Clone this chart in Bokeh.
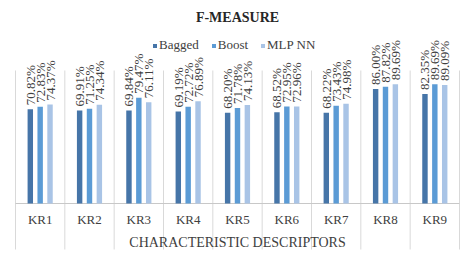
import math
from bokeh.plotting import figure
from bokeh.models import ColumnDataSource, Range1d, Legend, LegendItem, Label
from bokeh.core.properties import value
from bokeh.embed import file_html
from bokeh.resources import INLINE

categories = ["KR1", "KR2", "KR3", "KR4", "KR5", "KR6", "KR7", "KR8", "KR9"]
series_names = ["Bagged", "Boost", "MLP NN"]
bagged = [70.82, 69.91, 69.84, 69.19, 68.20, 68.52, 68.22, 86.00, 82.35]
boost = [72.83, 71.25, 79.47, 72.72, 71.78, 72.95, 73.43, 87.82, 89.69]
mlp_nn = [74.37, 74.34, 76.11, 76.89, 74.13, 72.96, 74.98, 89.69, 89.09]
colors = ["#4675A8", "#5B9BD5", "#A9C4E6"]

W, H = 474, 257
SERIF = "Liberation Serif"

# pixel mapping for the full-canvas frame
left_px, right_px = 15.0, 459.0
base_px, top_px = 203.0, 70.0
n = len(categories)
xs_per = (right_px - left_px) / n
ys_per = (base_px - top_px) / 100.0

p = figure(width=W, height=H, output_backend="svg", toolbar_location=None,
           x_axis_type=None, y_axis_type=None, min_border=0,
           x_range=Range1d(-left_px / xs_per, n + (W - right_px) / xs_per),
           y_range=Range1d(-(H - base_px) / ys_per, base_px / ys_per))
p.outline_line_color = None
p.grid.visible = False
p.background_fill_color = "white"
p.border_fill_color = "white"

# separators
bounds = list(range(n + 1))
p.segment(x0=bounds, x1=bounds, y0=[-(249 - base_px) / ys_per] * len(bounds),
          y1=[100] * len(bounds), line_color="#D9D9D9", line_width=1)
# baseline
p.segment(x0=[0], x1=[n], y0=[0], y1=[0], line_color="#C8C8C8", line_width=1)

centers = [i + 0.5 for i in range(n)]
offsets = [-0.2, 0.0, 0.2]
renderers = []
for vals, off, col in zip([bagged, boost, mlp_nn], offsets, colors):
    src = ColumnDataSource(dict(x=[c + off for c in centers], top=vals,
                                lab=[f"{v:.2f}%" for v in vals]))
    r = p.vbar(x="x", top="top", width=0.11, source=src, fill_color=col, line_color=None)
    renderers.append(r)
    p.text(x="x", y="top", text="lab", source=src, angle=math.pi / 2,
           text_align="left", text_baseline="middle", y_offset=-4,
           text_font=value(SERIF), text_font_size="13px", text_color="#404040")

# category tick labels
p.text(x=centers, y=[0] * n, text=categories, text_align="center", text_baseline="middle",
       y_offset=16, text_font=value(SERIF), text_font_size="13px", text_color="#404040")

p.add_layout(Label(x=237, y=H - 242, x_units="screen", y_units="screen",
                   text="CHARACTERISTIC DESCRIPTORS", text_align="center",
                   text_baseline="middle", text_font=SERIF, text_font_size="14px",
                   text_color="#404040"))
p.add_layout(Label(x=237, y=H - 17, x_units="screen", y_units="screen",
                   text="F-MEASURE", text_align="center", text_baseline="middle",
                   text_font=SERIF, text_font_size="14px", text_font_style="bold",
                   text_color="#262626"))

legend = Legend(items=[LegendItem(label=nm, renderers=[r]) for nm, r in zip(series_names, renderers)],
                orientation="horizontal", location=(152, H - 53),
                glyph_width=5, glyph_height=5, label_standoff=2, spacing=12,
                padding=0, margin=0, label_height=12,
                label_text_font=SERIF, label_text_font_size="13px", label_text_color="#404040",
                border_line_color=None, background_fill_alpha=0)
p.add_layout(legend, "center")

open("out.html", "w").write(file_html(p, INLINE))
